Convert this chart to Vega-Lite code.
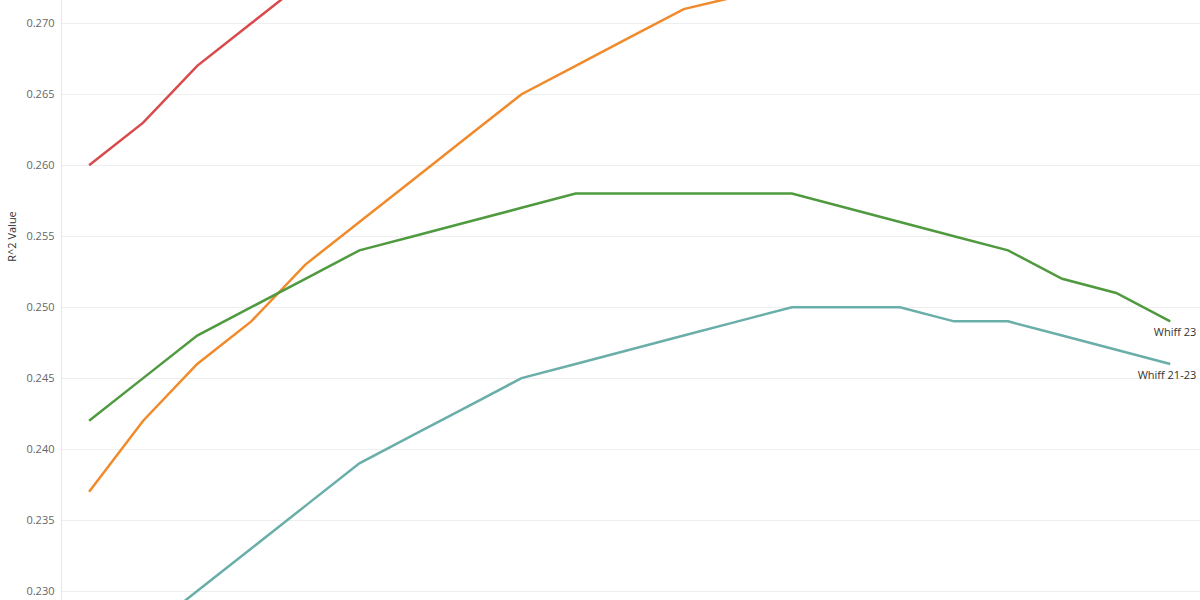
{
  "$schema": "https://vega.github.io/schema/vega-lite/v6.json",
  "width": 1139,
  "height": 600,
  "autosize": {"type": "none"},
  "padding": {"left": 61, "top": 0, "right": 0, "bottom": 0},
  "background": "white",
  "config": {
    "view": {"stroke": null},
    "font": "Open Sans"
  },
  "data": {
    "values": [
      {"series": "Whiff 22", "i": 0, "r2": 0.260},
      {"series": "Whiff 22", "i": 1, "r2": 0.263},
      {"series": "Whiff 22", "i": 2, "r2": 0.267},
      {"series": "Whiff 22", "i": 3, "r2": 0.270},
      {"series": "Whiff 22", "i": 4, "r2": 0.273},

      {"series": "Whiff 22-23", "i": 0, "r2": 0.237},
      {"series": "Whiff 22-23", "i": 1, "r2": 0.242},
      {"series": "Whiff 22-23", "i": 2, "r2": 0.246},
      {"series": "Whiff 22-23", "i": 3, "r2": 0.249},
      {"series": "Whiff 22-23", "i": 4, "r2": 0.253},
      {"series": "Whiff 22-23", "i": 5, "r2": 0.256},
      {"series": "Whiff 22-23", "i": 6, "r2": 0.259},
      {"series": "Whiff 22-23", "i": 7, "r2": 0.262},
      {"series": "Whiff 22-23", "i": 8, "r2": 0.265},
      {"series": "Whiff 22-23", "i": 9, "r2": 0.267},
      {"series": "Whiff 22-23", "i": 10, "r2": 0.269},
      {"series": "Whiff 22-23", "i": 11, "r2": 0.271},
      {"series": "Whiff 22-23", "i": 12, "r2": 0.2719},

      {"series": "Whiff 23", "i": 0, "r2": 0.242},
      {"series": "Whiff 23", "i": 1, "r2": 0.245},
      {"series": "Whiff 23", "i": 2, "r2": 0.248},
      {"series": "Whiff 23", "i": 3, "r2": 0.250},
      {"series": "Whiff 23", "i": 4, "r2": 0.252},
      {"series": "Whiff 23", "i": 5, "r2": 0.254},
      {"series": "Whiff 23", "i": 6, "r2": 0.255},
      {"series": "Whiff 23", "i": 7, "r2": 0.256},
      {"series": "Whiff 23", "i": 8, "r2": 0.257},
      {"series": "Whiff 23", "i": 9, "r2": 0.258},
      {"series": "Whiff 23", "i": 10, "r2": 0.258},
      {"series": "Whiff 23", "i": 11, "r2": 0.258},
      {"series": "Whiff 23", "i": 12, "r2": 0.258},
      {"series": "Whiff 23", "i": 13, "r2": 0.258},
      {"series": "Whiff 23", "i": 14, "r2": 0.257},
      {"series": "Whiff 23", "i": 15, "r2": 0.256},
      {"series": "Whiff 23", "i": 16, "r2": 0.255},
      {"series": "Whiff 23", "i": 17, "r2": 0.254},
      {"series": "Whiff 23", "i": 18, "r2": 0.252},
      {"series": "Whiff 23", "i": 19, "r2": 0.251},
      {"series": "Whiff 23", "i": 20, "r2": 0.249},

      {"series": "Whiff 21-23", "i": 0, "r2": 0.224},
      {"series": "Whiff 21-23", "i": 1, "r2": 0.227},
      {"series": "Whiff 21-23", "i": 2, "r2": 0.230},
      {"series": "Whiff 21-23", "i": 3, "r2": 0.233},
      {"series": "Whiff 21-23", "i": 4, "r2": 0.236},
      {"series": "Whiff 21-23", "i": 5, "r2": 0.239},
      {"series": "Whiff 21-23", "i": 6, "r2": 0.241},
      {"series": "Whiff 21-23", "i": 7, "r2": 0.243},
      {"series": "Whiff 21-23", "i": 8, "r2": 0.245},
      {"series": "Whiff 21-23", "i": 9, "r2": 0.246},
      {"series": "Whiff 21-23", "i": 10, "r2": 0.247},
      {"series": "Whiff 21-23", "i": 11, "r2": 0.248},
      {"series": "Whiff 21-23", "i": 12, "r2": 0.249},
      {"series": "Whiff 21-23", "i": 13, "r2": 0.250},
      {"series": "Whiff 21-23", "i": 14, "r2": 0.250},
      {"series": "Whiff 21-23", "i": 15, "r2": 0.250},
      {"series": "Whiff 21-23", "i": 16, "r2": 0.249},
      {"series": "Whiff 21-23", "i": 17, "r2": 0.249},
      {"series": "Whiff 21-23", "i": 18, "r2": 0.248},
      {"series": "Whiff 21-23", "i": 19, "r2": 0.247},
      {"series": "Whiff 21-23", "i": 20, "r2": 0.246}
    ]
  },
  "encoding": {
    "x": {
      "field": "i",
      "type": "quantitative",
      "scale": {"domain": [-0.52, 20.55], "nice": false, "zero": false},
      "axis": null
    },
    "y": {
      "field": "r2",
      "type": "quantitative",
      "scale": {"domain": [0.22937, 0.27164], "nice": false, "zero": false},
      "axis": {
        "title": "R^2 Value",
        "values": [0.230, 0.235, 0.240, 0.245, 0.250, 0.255, 0.260, 0.265, 0.270],
        "format": ".3f",
        "labelFontSize": 11,
        "labelColor": "#666666",
        "labelPadding": 7,
        "ticks": false,
        "domain": true,
        "domainColor": "#e6e6e6",
        "grid": true,
        "gridColor": "#eeeeee",
        "titleFontSize": 11,
        "titleFontWeight": "normal",
        "titleColor": "#333333",
        "titleAngle": -90,
        "titleX": -49,
        "titleY": 236,
        "titleAlign": "center",
        "titleBaseline": "middle"
      }
    }
  },
  "layer": [
    {
      "mark": {"type": "line", "strokeWidth": 2.5, "clip": true},
      "encoding": {
        "color": {
          "field": "series",
          "type": "nominal",
          "scale": {
            "domain": ["Whiff 22", "Whiff 22-23", "Whiff 23", "Whiff 21-23"],
            "range": ["#d94a4c", "#f08a2a", "#4f9a3f", "#6aaea9"]
          },
          "legend": null
        },
        "order": {"field": "i"}
      }
    },
    {
      "transform": [{"filter": "datum.i == 20"}],
      "mark": {
        "type": "text",
        "align": "right",
        "baseline": "middle",
        "dx": 26,
        "dy": 12,
        "fontSize": 11,
        "color": "#333333"
      },
      "encoding": {
        "text": {"field": "series", "type": "nominal"}
      }
    }
  ]
}
